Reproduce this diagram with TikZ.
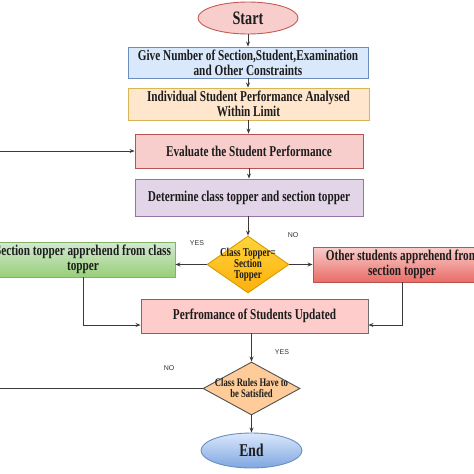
\documentclass[tikz,border=0pt]{standalone}
\usepackage{fontspec}
\setmainfont{Liberation Serif}[FakeStretch=0.75]
\newfontfamily\labfont{Liberation Sans}
\usetikzlibrary{shapes.geometric,arrows.meta}
\definecolor{txt}{HTML}{1C1C1C}
\definecolor{line}{HTML}{3A3A3A}
\tikzset{
  box/.style={draw, line width=0.9pt, rectangle, inner sep=0pt, align=center,
     font=\fontsize{15}{15}\selectfont\bfseries, text=txt},
  dia/.style={draw, line width=0.9pt, diamond, inner sep=0pt},
  diatext/.style={align=center, font=\fontsize{12}{11}\selectfont\bfseries, text=txt},
  term/.style={draw, line width=0.9pt, ellipse, inner sep=0pt, text=txt},
  conn/.style={draw=line, line width=0.9pt, -{Stealth[length=5pt,width=4pt]}},
  lab/.style={font=\labfont\fontsize{7}{7}\selectfont, text=black!80}
}
\begin{document}
\begin{tikzpicture}[x=1pt,y=-1pt]
\useasboundingbox (0,0) rectangle (474,474);
\clip (0,0) rectangle (474,474);
\fill[white] (0,0) rectangle (474,474);

\node[term, fill={rgb,255:red,248;green,206;blue,204}, draw={rgb,255:red,198;green,90;blue,85},
  minimum width=100pt, minimum height=32pt, font=\fontsize{19}{19}\selectfont\bfseries] (start) at (248,18) {Start};
\node[box, fill={rgb,255:red,218;green,232;blue,252}, draw={rgb,255:red,108;green,142;blue,191},
  minimum width=240pt, minimum height=31pt] (b1) at (248,62.5) {Give Number of Section,Student,Examination\\and Other Constraints};
\node[box, fill={rgb,255:red,255;green,230;blue,204}, draw={rgb,255:red,215;green,182;blue,86},
  minimum width=241pt, minimum height=32pt] (b2) at (248.5,104) {Individual Student Performance Analysed\\Within Limit};
\node[box, fill={rgb,255:red,248;green,206;blue,204}, draw={rgb,255:red,184;green,84;blue,80},
  minimum width=228pt, minimum height=34pt] (b3) at (249,151) {Evaluate the Student Performance};
\node[box, fill={rgb,255:red,225;green,213;blue,231}, draw={rgb,255:red,150;green,115;blue,166},
  minimum width=228pt, minimum height=37pt] (b4) at (249,197.5) {Determine class topper and section topper};
\node[dia, top color={rgb,255:red,255;green,212;blue,60}, bottom color={rgb,255:red,255;green,175;blue,10},
  draw={rgb,255:red,215;green,155;blue,0}, minimum width=82pt, minimum height=57pt,
  label={[diatext]center:Class Topper=\\Section\\Topper}] (d1) at (248,264.5) {};
\node[box, top color={rgb,255:red,213;green,232;blue,212}, bottom color={rgb,255:red,151;green,208;blue,119},
  draw={rgb,255:red,130;green,179;blue,102}, minimum width=184pt, minimum height=35pt] (green) at (83,259.5)
  {Section topper apprehend from class\\topper};
\node[box, top color={rgb,255:red,248;green,206;blue,204}, bottom color={rgb,255:red,234;green,107;blue,102},
  draw={rgb,255:red,184;green,84;blue,80}, minimum width=178pt, minimum height=35pt] (red) at (402,264.5)
  {Other students apprehend from\\section topper};
\node[box, fill={rgb,255:red,255;green,204;blue,204}, draw={rgb,255:red,110;green,110;blue,110},
  minimum width=227pt, minimum height=34pt] (perf) at (254.5,316) {Perfromance of Students Updated};
\node[dia, fill={rgb,255:red,255;green,204;blue,153}, draw={rgb,255:red,80;green,80;blue,80},
  minimum width=97pt, minimum height=53pt,
  label={[diatext, font=\fontsize{11.5}{11}\selectfont\bfseries]center:Class Rules Have to\\be Satisfied}] (d2) at (251.5,388.5) {};
\node[term, top color={rgb,255:red,218;green,232;blue,252}, bottom color={rgb,255:red,126;green,166;blue,224},
  draw={rgb,255:red,108;green,142;blue,191},
  minimum width=101pt, minimum height=35pt, font=\fontsize{18}{18}\selectfont\bfseries] (end) at (251.5,450.5) {End};

\coordinate (gturn) at (83,325);
\coordinate (rturn) at (402,325);
\coordinate (loopbot) at (-6,388.5);
\coordinate (looptop) at (-6,151);

\draw[conn] (start) -- (b1);
\draw[conn] (b1.south) -- (b1.south |- b2.north);
\draw[conn] (b2.south) -- (b2.south |- b3.north);
\draw[conn] (b3.south) -- (b3.south |- b4.north);
\draw[conn] (b4.south -| d1.north) -- (d1.north);
\draw[conn] (d1.west) -- (d1.west -| green.east);
\draw[conn] (d1.east) -- (d1.east -| red.west);
\draw[conn] (green.south) -- (gturn) -- (gturn -| perf.west);
\draw[conn] (red.south) -- (rturn) -- (rturn -| perf.east);
\draw[conn] (perf.south -| d2.north) -- (d2.north);
\draw[conn] (d2.south) -- (end.north);
\draw[conn] (d2.west) -- (loopbot) -- (looptop) -- (b3.west);

\node[lab] (yes1) at (197,243) {YES};
\node[lab] (no1) at (293,235) {NO};
\node[lab] (yes2) at (282,352) {YES};
\node[lab] (no2) at (169,368) {NO};
\end{tikzpicture}
\end{document}
